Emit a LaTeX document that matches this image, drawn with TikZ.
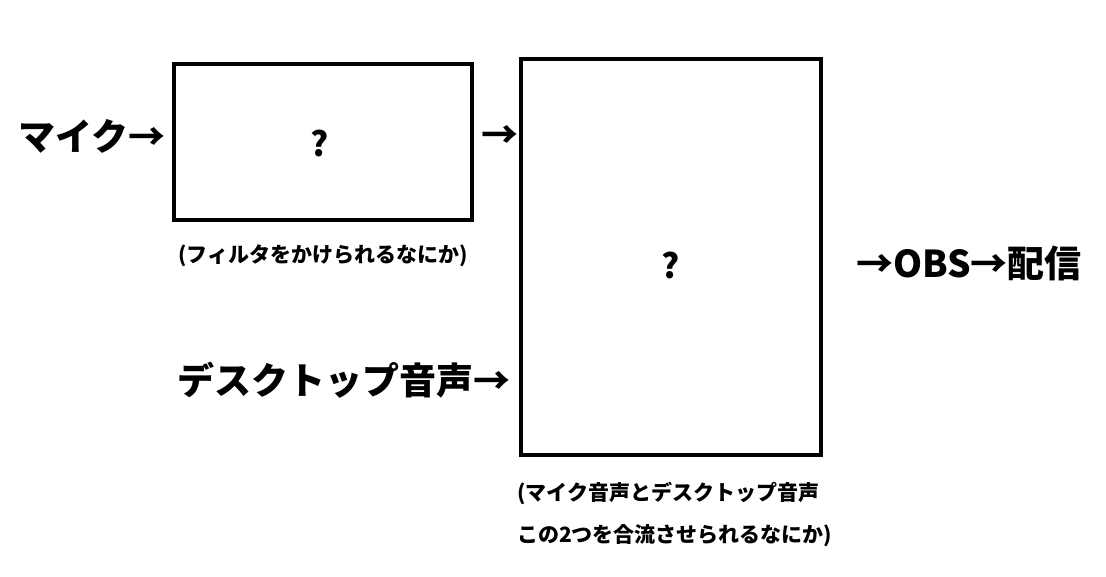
\documentclass[tikz,border=0pt]{standalone}
\usepackage{fontspec}
\setmainfont{Noto Sans CJK JP}
\usepackage{tikz}
\usetikzlibrary{positioning}

\begin{document}
\begin{tikzpicture}[
x=1pt, y=-1pt,
boxnode/.style={rectangle, draw=black, line width=4pt, inner sep=0pt},
bignode/.style={font=\bfseries\fontsize{37}{42}\selectfont, inner sep=0pt},
qnode/.style={font=\bfseries\fontsize{34}{38}\selectfont, inner sep=0pt},
smallnode/.style={font=\bfseries\fontsize{21}{42}\selectfont, inner sep=0pt, align=left},
]
    \useasboundingbox (0,0) rectangle (1106,577);
    \node[boxnode, minimum width=298pt, minimum height=156pt] (filterbox) at (323,142) {};
    \node[boxnode, minimum width=300pt, minimum height=396pt] (mixbox)    at (671,257) {};

    \node[qnode]        (filterq)     at (320,143)   {?};
    \node[qnode]        (mixq)        at (671,265)   {?};

    \node[bignode]      (mic)         [anchor=east] at (166,136) {マイク→};
    \node[bignode]      (between)     at (500,137)   {→};
    \node[bignode]      (desktop)     [anchor=east] at (511,380) {デスクトップ音声→};
    \node[bignode]      (obs)         [anchor=west] at (856,263) {→OBS→配信};

    \node[smallnode]    (filtertext)  [anchor=west] at (178,256) {(フィルタをかけられるなにか)};
    \node[smallnode]    (mixtext)     [anchor=north west] at (517,482) {(マイク音声とデスクトップ音声\\この2つを合流させられるなにか)};
\end{tikzpicture}
\end{document}
